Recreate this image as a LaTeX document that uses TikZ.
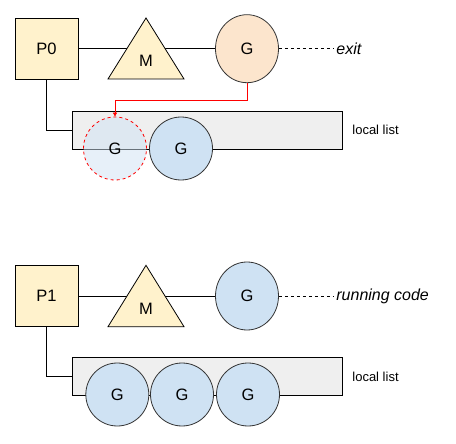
\documentclass[tikz,border=0pt]{standalone}
\usepackage{fontspec}
\setmainfont{Liberation Sans}
\usetikzlibrary{shapes.geometric,arrows.meta}
\definecolor{pyellow}{HTML}{FFF2CC}
\definecolor{gorange}{HTML}{FCE5CD}
\definecolor{gblue}{HTML}{CFE2F3}
\definecolor{lgray}{HTML}{EFEFEF}
\begin{document}
\begin{tikzpicture}[x=1pt,y=-1pt,line width=0.8pt,
  big/.style={font=\fontsize{16.5}{18}\selectfont},
  pbox/.style={draw, fill=pyellow, big, minimum width=63pt, minimum height=61pt, inner sep=0pt},
  grun/.style={draw=black!80, ellipse, big, minimum width=63pt, minimum height=68pt, inner sep=0pt},
  gitem/.style={draw=black!80, circle, fill=gblue, big, minimum size=63pt, inner sep=0pt},
  lbox/.style={draw, fill=lgray, minimum width=270pt, minimum height=38pt, inner sep=0pt},
  mtri/.style={draw, fill=pyellow},
  note/.style={anchor=west, inner sep=0pt, font=\fontsize{16}{18}\selectfont\itshape},
  llabel/.style={anchor=west, inner sep=0pt, font=\fontsize{13}{15}\selectfont},
  tail/.style={dash pattern=on 3pt off 3pt, shorten >=2pt}]
\useasboundingbox (0,0) rectangle (456,444);

% P0 exits its G
\node[pbox] (p0) at (46.5,48.7) {P0};
\node[grun, fill=gorange] (g0) at (247,48.7) {G};
\draw (p0) -- (g0);
\draw[mtri] (108,79) -- (146,18) -- (184,79) -- cycle;
\node[big] (m0) at (146,61) {M};
\node[note] (x0) at (336,48.7) {exit};
\draw[tail] (g0) -- (x0);
\node[lbox] (l0) at (207.5,130.3) {};
\node[llabel] (t0) at (352,130.3) {local list};
\draw (p0.south) |- (l0.west);
\node[gitem, draw=red, dashed, fill opacity=0.5, text opacity=1] (d0) at (115,148.5) {G};
\node[gitem] (q0) at (181,148.5) {G};
\coordinate (bend) at (115,100);
\draw[red, -{Triangle[length=4pt,width=4pt]}] (g0.south) |- (bend) -- (d0.north);

% P1 runs its G
\node[pbox] (p1) at (46.5,296) {P1};
\node[grun, fill=gblue] (g1) at (247,296) {G};
\draw (p1) -- (g1);
\draw[mtri] (108,326.7) -- (146,265.3) -- (184,326.7) -- cycle;
\node[big] (m1) at (146,308.5) {M};
\node[note] (x1) at (336,296) {running code};
\draw[tail] (g1) -- (x1);
\node[lbox] (l1) at (207.5,376.8) {};
\node[llabel] (t1) at (352,376.8) {local list};
\draw (p1.south) |- (l1.west);
\node[gitem] (q1) at (117.3,394.5) {G};
\node[gitem] (q2) at (182,394.5) {G};
\node[gitem] (q3) at (248,394.5) {G};
\end{tikzpicture}
\end{document}
